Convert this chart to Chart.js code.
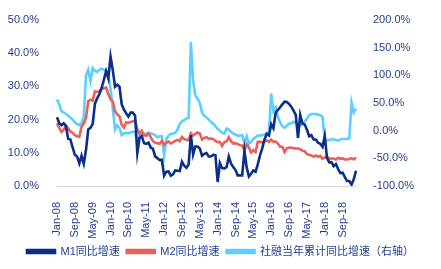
<!DOCTYPE html>
<html>
<head>
<meta charset="utf-8">
<script src="https://cdn.jsdelivr.net/npm/chart.js@4/dist/chart.umd.min.js"></script>
<style>
html,body{margin:0;padding:0;background:#fff;}
#wrap{width:441px;height:269px;position:relative;}
</style>
</head>
<body>
<div id="wrap"><canvas id="c" width="441" height="269"></canvas></div>
<script>
const monthNames = ['Jan','Feb','Mar','Apr','May','Jun','Jul','Aug','Sep','Oct','Nov','Dec'];
const yearLabels = ['08','09','10','11','12','13','14','15','16','17','18','19'];
const categories = [];
for (const y of yearLabels) for (const m of monthNames) categories.push(m + '-' + y);
categories.length = 135; // Jan-08 .. Mar-19

const seriesNames = ['M1同比增速', 'M2同比增速', '社融当年累计同比增速（右轴）'];

const m1 = [
 20.7,18.9,18.3,18.9,18.1,14.2,14.0,11.6,9.4,8.9,6.8,9.1,
 6.7,10.9,17.0,17.5,18.7,24.8,26.4,27.7,29.5,32.0,34.6,32.4,
 39.0,34.9,29.9,30.5,29.9,24.6,23.0,21.9,20.9,22.1,22.1,21.2,
 9.9,14.5,15.0,12.9,12.7,13.1,11.6,11.2,8.9,8.4,7.8,7.9,
 3.1,4.3,4.4,3.1,3.5,4.7,4.6,4.5,7.3,6.1,5.5,6.5,
 15.3,9.5,11.9,11.9,11.3,9.1,9.7,9.9,8.9,8.9,9.4,9.3,
 1.2,6.9,5.4,5.3,5.7,8.9,6.7,5.7,4.8,3.2,3.2,3.2,
 10.6,5.6,2.9,3.7,4.7,4.3,6.6,9.3,11.4,14.0,15.7,15.2,
 18.6,17.4,22.1,22.9,23.7,24.6,25.4,25.3,24.7,23.9,22.7,21.4,
 14.5,21.4,18.8,18.5,17.0,15.0,15.3,14.0,14.0,13.0,12.7,11.8,
 15.0,8.5,7.1,7.2,6.0,6.6,5.1,3.9,4.0,2.7,1.5,1.5,
 0.4,2.0,4.6
];
const m2 = [
 18.9,17.5,16.3,16.9,18.1,17.4,16.4,16.0,15.3,15.0,14.8,17.8,
 18.8,20.5,25.5,26.0,25.7,28.5,28.4,28.5,29.3,29.4,29.7,27.7,
 26.1,25.5,22.5,21.5,21.0,18.5,17.6,19.2,19.0,19.3,19.5,19.7,
 17.2,15.7,16.6,15.3,15.1,15.9,14.7,13.5,13.0,12.9,12.7,13.6,
 12.4,13.0,13.4,12.8,13.2,13.6,13.9,13.5,14.8,14.1,13.9,13.8,
 15.9,15.2,15.7,16.1,15.8,14.0,14.5,14.7,14.2,14.3,14.2,13.6,
 13.2,13.3,12.1,13.2,13.4,14.7,13.5,12.8,12.9,12.6,12.3,12.2,
 10.8,12.5,11.6,10.1,10.8,10.2,13.3,13.3,13.1,13.5,13.7,13.3,
 14.0,13.3,13.4,12.8,11.8,11.8,10.2,11.4,11.5,11.6,11.4,11.3,
 11.3,11.1,10.6,10.5,9.6,9.4,9.2,8.9,9.2,8.8,9.1,8.2,
 8.6,8.8,8.2,8.3,8.3,8.0,8.5,8.2,8.3,8.0,8.0,8.1,
 8.4,8.0,8.6
];
const sf = [
 56,48,35,33,30,27,24,20,15,12,10,14,
 25,100,110,90,113,108,106,110,112,110,108,103,
 75,40,2,10,5,-8,-5,-4,-5,-3,-2,-3,
 -22,-10,-8,-6,-5,-5,-5,-6,-8,-12,-10,-10,
 -45,-15,-9,-6,-5,-4,2,12,17,19,22,23,
 160,90,63,58,50,33,27,24,20,16,13,8,
 3,0,-4,-5,4,2,-2,-5,-7,-9,-9,-8,
 -22,-10,-24,-20,-15,-12,-9,-9,-8,-7,-5,-2,
 67,35,42,25,15,8,5,9,13,13,16,14,
 12,9,12,16,22,28,30,30,30,29,28,25,
 -15,-18,-17,-15,-16,-17,-18,-16,-15,-15,-15,-14,
 51,33,40
];

const textColor = '#1F3E8F';
const fontFam = '"Liberation Sans", Arial, "Noto Sans CJK SC", sans-serif';
const colors = ['#0A2E8A', '#E8605A', '#5BCFFF'];

new Chart(document.getElementById('c'), {
  type: 'line',
  data: {
    labels: categories,
    datasets: [
      {label: seriesNames[0], data: m1, yAxisID: 'y', borderColor: colors[0], backgroundColor: colors[0], borderWidth: 2.6, pointRadius: 0, tension: 0},
      {label: seriesNames[1], data: m2, yAxisID: 'y', borderColor: colors[1], backgroundColor: colors[1], borderWidth: 2.6, pointRadius: 0, tension: 0},
      {label: seriesNames[2], data: sf, yAxisID: 'y2', borderColor: colors[2], backgroundColor: colors[2], borderWidth: 2.6, pointRadius: 0, tension: 0}
    ]
  },
  options: {
    responsive: false,
    animation: false,
    layout: {padding: {top: 20, bottom: 2, left: 0, right: 0}},
    plugins: {
      legend: {
        position: 'bottom',
        labels: {
          boxWidth: 28, boxHeight: 3, padding: 7,
          color: textColor,
          font: {family: fontFam, size: 11}
        }
      },
      tooltip: {enabled: false}
    },
    scales: {
      x: {
        grid: {display: false},
        border: {display: true, color: '#D9D9D9', width: 1},
        ticks: {
          autoSkip: false, minRotation: 90, maxRotation: 90,
          color: textColor, font: {family: fontFam, size: 11}, padding: 8,
          callback: function(v, i) { return i % 8 === 0 ? categories[i] : ''; }
        },
        afterFit: s => { s.height = 53; }
      },
      y: {
        position: 'left', min: 0, max: 50,
        grid: {display: false},
        border: {display: false},
        ticks: {stepSize: 10, color: textColor, font: {family: fontFam, size: 11}, padding: 10,
          callback: v => v.toFixed(1) + '%'},
        afterFit: s => { s.width = 57; }
      },
      y2: {
        position: 'right', min: -100, max: 200,
        grid: {display: false},
        border: {display: false},
        ticks: {stepSize: 50, color: textColor, font: {family: fontFam, size: 11}, padding: 9,
          callback: v => v.toFixed(1) + '%'},
        afterFit: s => { s.width = 85; }
      }
    }
  }
});
</script>
</body>
</html>
